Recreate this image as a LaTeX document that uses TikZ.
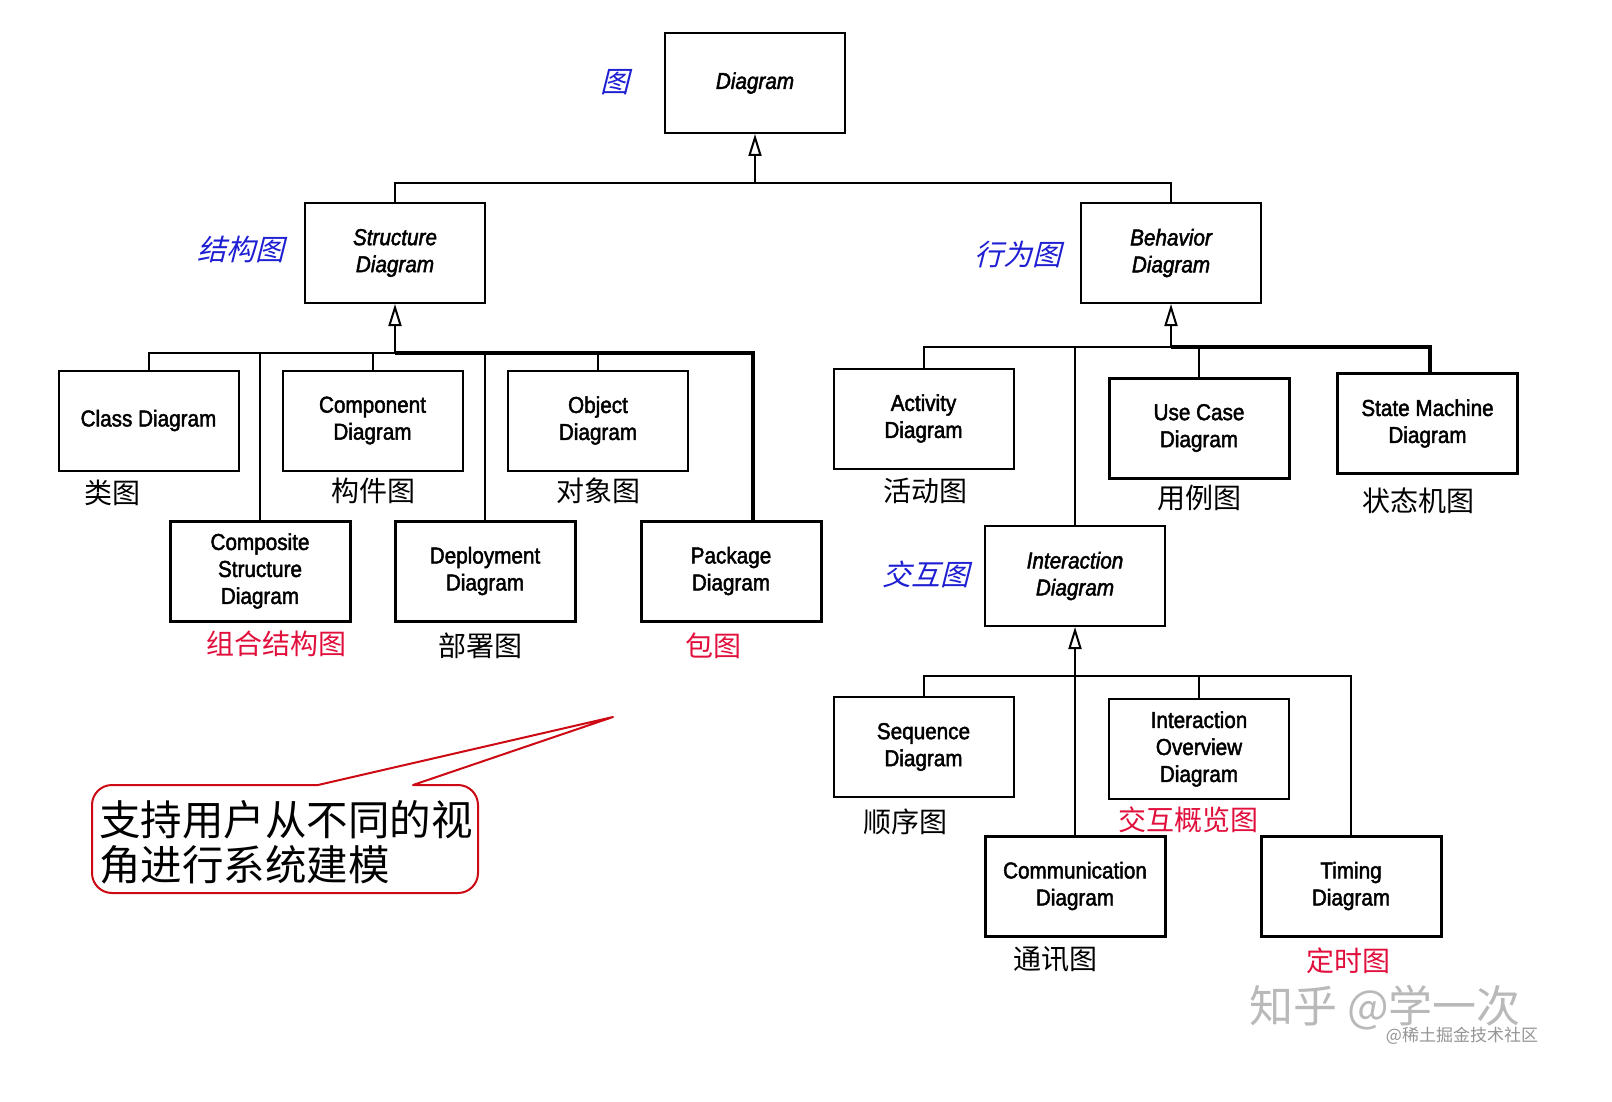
\documentclass[tikz,border=0pt]{standalone}
\usepackage{fontspec}
\usetikzlibrary{arrows.meta}
\newfontfamily\boxfont[FakeStretch=0.9,FakeBold=2]{Liberation Sans}
\newfontfamily\cjk{Noto Sans CJK SC}
\newfontfamily\cjkit[FakeSlant=0.25]{Noto Sans CJK SC}
\definecolor{lblblue}{RGB}{30,30,210}
\definecolor{lblred}{RGB}{225,15,60}
\definecolor{callred}{RGB}{205,10,20}
\definecolor{wm}{RGB}{185,185,185}
\begin{document}
\begin{tikzpicture}[x=1pt,y=-1pt,
  box/.style={draw, line width=2pt, minimum width=180pt, minimum height=100pt, inner sep=0pt, align=center,
    font=\boxfont\fontsize{23}{27}\selectfont},
  heavy/.style={line width=3pt},
  abstract/.style={font=\boxfont\itshape\fontsize{23}{27}\selectfont},
  lbl/.style={font=\cjk\fontsize{28}{30}\selectfont, inner sep=0pt},
  role/.style={font=\cjkit\fontsize{29}{30}\selectfont, text=lblblue, inner sep=0pt},
  lred/.style={lbl, text=lblred},
  conn/.style={line width=2pt},
  bus/.style={line width=3.5pt},
  gen/.style={line width=2pt, -{Triangle[open, length=22pt, width=13pt, line width=2pt]}},
  callout/.style={draw=callred, line width=2pt, line join=round}
]
\useasboundingbox (0,0) rectangle (1612,1102);

% ---- boxes
\node[box, abstract] (diagram) at (755,83) {Diagram};
\node[box, abstract] (structure) at (395,253) {Structure\\Diagram};
\node[box, abstract] (behavior) at (1171,253) {Behavior\\Diagram};

\node[box] (class) at (148.5,420.5) {Class Diagram};
\node[box] (component) at (372.5,420.5) {Component\\Diagram};
\node[box] (object) at (598,420.5) {Object\\Diagram};
\node[box, heavy] (composite) at (260,571) {Composite\\Structure\\Diagram};
\node[box, heavy] (deployment) at (485,571) {Deployment\\Diagram};
\node[box, heavy] (package) at (731,571) {Package\\Diagram};

\node[box] (activity) at (923.5,418.5) {Activity\\Diagram};
\node[box, heavy] (usecase) at (1199,428) {Use Case\\Diagram};
\node[box, heavy] (statemachine) at (1427.5,423.5) {State Machine\\Diagram};
\node[box, abstract] (interaction) at (1075,576) {Interaction\\Diagram};

\node[box] (sequence) at (923.5,747) {Sequence\\Diagram};
\node[box] (overview) at (1199,749) {Interaction\\Overview\\Diagram};
\node[box, heavy] (communication) at (1075,886) {Communication\\Diagram};
\node[box, heavy] (timing) at (1351,886) {Timing\\Diagram};

% ---- junctions
\coordinate (tbus) at (755,183);
\coordinate (sbus) at (395,353);
\coordinate (bbus) at (1171,347);
\coordinate (ibus) at (1075,676);

% ---- connectors
\draw[gen] (tbus) -- (diagram.south);
\draw[conn] (structure.north) |- (tbus);
\draw[conn] (behavior.north) |- (tbus);

\draw[gen] (sbus) -- (structure.south);
\draw[conn] (class.north) |- (sbus);
\draw[conn] (component.north) |- (sbus);
\draw[conn] (composite.north) |- (sbus);
\draw[conn] (object.north) -- (object.north |- sbus);
\draw[conn] (deployment.north) -- (deployment.north |- sbus);
\draw[bus] ([xshift=22pt]package.north) |- (sbus);

\draw[gen] (bbus) -- (behavior.south);
\draw[conn] (activity.north) |- (bbus);
\draw[conn] (interaction.north) -- (interaction.north |- bbus);
\draw[conn] (usecase.north) -- (usecase.north |- bbus);
\draw[bus] ([xshift=2.5pt]statemachine.north) |- (bbus);

\draw[gen] (ibus) -- (interaction.south);
\draw[conn] (sequence.north) |- (ibus);
\draw[conn] (overview.north) |- (ibus);
\draw[conn] (timing.north) |- (ibus);
\draw[conn] (communication.north) -- (ibus);

% ---- labels
\node[role] (rdiagram) at (615,82) {图};
\node[role] (rstructure) at (241,249) {结构图};
\node[role] (rbehavior) at (1018,255) {行为图};
\node[role] (rinteraction) at (926,574) {交互图};

\node[lbl] (lclass) at (112,493) {类图};
\node[lbl] (lcomponent) at (373,491) {构件图};
\node[lbl] (lobject) at (598,491) {对象图};
\node[lred] (lcomposite) at (276,644) {组合结构图};
\node[lbl] (ldeployment) at (480,646) {部署图};
\node[lred] (lpackage) at (713,646) {包图};

\node[lbl] (lactivity) at (925,491) {活动图};
\node[lbl] (lusecase) at (1199,498) {用例图};
\node[lbl] (lstate) at (1418,501) {状态机图};

\node[lbl] (lsequence) at (905,822) {顺序图};
\node[lred] (loverview) at (1188,820) {交互概览图};
\node[lbl] (lcomm) at (1055,959) {通讯图};
\node[lred] (ltiming) at (1348,961) {定时图};

% ---- callout
\draw[callout] (318,785) [rounded corners=20pt] -- (92,785) -- (92,893) -- (478,893) -- (478,785) [sharp corners] -- (413,785) -- (613,717) -- cycle;
\node[font=\cjk\fontsize{41.5}{45}\selectfont, align=left, anchor=west, inner sep=0pt] (note) at (99,842) {支持用户从不同的视\\角进行系统建模};

% ---- watermark
\node[font=\cjk\fontsize{44}{48}\selectfont, text=wm, inner sep=0pt] (wm1) at (1385,1008) {知乎 @学一次};
\node[font=\cjk\fontsize{17}{20}\selectfont, text=wm!80!black, inner sep=0pt] (wm2) at (1462,1036) {@稀土掘金技术社区};
\end{tikzpicture}
\end{document}
